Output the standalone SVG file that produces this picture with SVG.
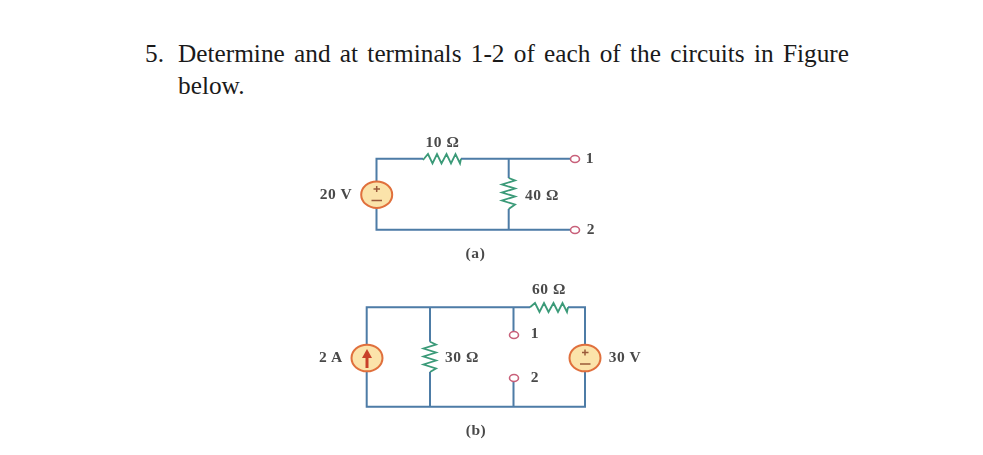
<svg xmlns="http://www.w3.org/2000/svg" width="983" height="455" viewBox="0 0 983 455">
<defs>
<filter id="soft" x="-5%" y="-5%" width="110%" height="110%"><feGaussianBlur stdDeviation="0.45"/></filter>
<style>
.t{font-family:"Liberation Serif","Times New Roman",serif;fill:#1a1a1a}
.q{font-size:25.300px}
.l{font-family:"Liberation Serif","Times New Roman",serif;font-size:15.500px;letter-spacing:.6px;font-weight:bold;fill:#4a4a4a;text-anchor:middle}
.w{fill:none;stroke:#4d7ba6;stroke-width:2}
.r{fill:none;stroke:#3a9a78;stroke-width:1.8}
.s{fill:#fbe3aa;stroke:#e0703c;stroke-width:2}
.p{fill:none;stroke:#9a5a3a;stroke-width:1.5}
.o{fill:#fff;stroke:#c8607a;stroke-width:1.6}
</style>
</defs>
<rect width="983" height="455" fill="#fff"/>
<text class="t q" x="145" y="62">5.</text>
<text class="t q" x="178" y="62" word-spacing="2.950">Determine and at terminals 1-2 of each of the circuits in Figure</text>
<text class="t q" x="178" y="94">below.</text>
<g filter="url(#soft)">
<g id="connectors" class="w">
<path d="M376.500 181V158.700H423M461 158.700H571M508.700 158.700V178M508.700 209V229.700M376.500 208V229.700H571"/>
<path d="M366.700 345V307.300H530M568 307.300H585V345M430 307.300V341.700M430 372V406.700M513.500 307.300V331M513.500 382V406.700M366.700 371V406.700H585V371"/>
</g>
<g id="r10"><path class="r" d="M423 160L428 154L432.500 163.500L437 154L441.500 163.500L446.500 154L451 163.500L455.500 154L460 163.500L461 158.700"/><text class="l" x="442.500" y="147">10 Ω</text></g>
<g id="r40"><path class="r" d="M508.700 178L515 180.500L502 184.500L515 188.500L502 192.500L515 196.500L502 200.500L515 204.500L508.700 209"/><text class="l" x="542" y="200">40 Ω</text></g>
<g id="v20"><ellipse class="s" cx="376.700" cy="194.700" rx="15.500" ry="13.300"/><path class="p" d="M376.700 186V192M373.500 189H380M371.500 200.500H382"/><text class="l" x="336" y="199">20 V</text></g>
<g id="t1a"><ellipse class="o" cx="575" cy="159" rx="4.500" ry="3.500"/><text class="l" x="590" y="163">1</text></g>
<g id="t2a"><ellipse class="o" cx="575" cy="230" rx="4.500" ry="3.500"/><text class="l" x="591" y="234">2</text></g>
<text class="l" x="475.500" y="258">(a)</text>
<g id="i2"><ellipse class="s" cx="367" cy="358" rx="15.500" ry="13.300"/><path d="M367 368V356" fill="none" stroke="#c8402a" stroke-width="3"/><path d="M367 349L362 358H372Z" fill="#c8402a"/><text class="l" x="331" y="362">2 A</text></g>
<g id="r30"><path class="r" d="M430 341.700L436 344.500L423.500 348.500L436 352.500L423.500 356.500L436 360.500L423.500 364.500L436 368.500L430 372"/><text class="l" x="462" y="362">30 Ω</text></g>
<g id="r60"><path class="r" d="M530 307.300L535 303L539.500 312L544 303L548.500 312L553.500 303L558 312L562.500 303L567 312L568 307.300"/><text class="l" x="549" y="294">60 Ω</text></g>
<g id="t1b"><ellipse class="o" cx="514" cy="335" rx="4.500" ry="3.500"/><text class="l" x="535" y="338">1</text></g>
<g id="t2b"><ellipse class="o" cx="514" cy="378" rx="4.500" ry="3.500"/><text class="l" x="535" y="382">2</text></g>
<g id="v30"><ellipse class="s" cx="585" cy="358" rx="15.500" ry="13.300"/><path class="p" d="M585 349.500V355.500M582 352.500H588.500M580 364H590.500"/><text class="l" x="625" y="362">30 V</text></g>
<text class="l" x="476" y="435">(b)</text>
</g>
</svg>
